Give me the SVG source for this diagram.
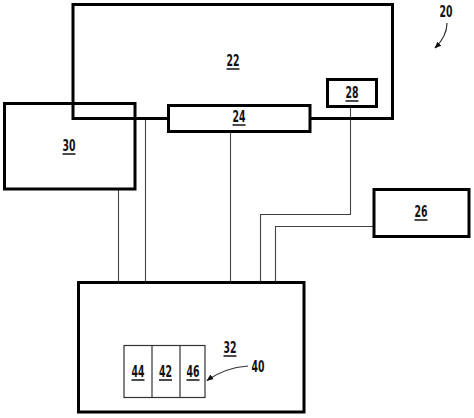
<svg xmlns="http://www.w3.org/2000/svg" width="474" height="418" viewBox="0 0 474 418">
<style>
.box{fill:none;stroke:#000;stroke-width:3}
.boxw{fill:#fff;stroke:#000;stroke-width:3}
.thin{fill:none;stroke:#333;stroke-width:1.2}
.wire{fill:none;stroke:#444;stroke-width:1.1}
.lbl{font-family:"DejaVu Sans Condensed","Liberation Sans Narrow","Liberation Sans",sans-serif;font-size:16.5px;font-weight:bold;fill:#111;text-anchor:middle}
.ul{stroke:#111;stroke-width:1.5}
</style>
<defs>
<marker id="ah" viewBox="0 0 10 10" refX="9" refY="5" markerWidth="7" markerHeight="7" orient="auto" markerUnits="userSpaceOnUse">
<path d="M0,1 L10,5 L0,9 Z" fill="#111"/>
</marker>
</defs>
<g id="connectors">
<line class="wire" x1="118.5" y1="189" x2="118.5" y2="282"/>
<line class="wire" x1="145.5" y1="119" x2="145.5" y2="282"/>
<line class="wire" x1="230.5" y1="132" x2="230.5" y2="282"/>
<polyline class="wire" points="350.5,107 350.5,214.5 260.5,214.5 260.5,282"/>
<polyline class="wire" points="374,226.5 275.5,226.5 275.5,282"/>
</g>
<g id="n22">
<rect class="box" x="73" y="4.5" width="319.5" height="114"/>
<text class="lbl" x="233" y="66" textLength="13" lengthAdjust="spacingAndGlyphs">22</text>
<line class="ul" x1="226.5" y1="69" x2="239.5" y2="69"/>
</g>
<g id="n28">
<rect class="boxw" x="327.5" y="79.5" width="49" height="27"/>
<text class="lbl" x="352" y="98" textLength="13" lengthAdjust="spacingAndGlyphs">28</text>
<line class="ul" x1="345.5" y1="101" x2="358.5" y2="101"/>
</g>
<g id="n24">
<rect class="boxw" x="168.5" y="105.5" width="141.5" height="26"/>
<text class="lbl" x="239" y="122" textLength="13" lengthAdjust="spacingAndGlyphs">24</text>
<line class="ul" x1="232.5" y1="125" x2="245.5" y2="125"/>
</g>
<g id="n30">
<rect class="box" x="4.5" y="103.5" width="130.5" height="85.5"/>
<text class="lbl" x="69" y="151" textLength="13" lengthAdjust="spacingAndGlyphs">30</text>
<line class="ul" x1="62.5" y1="154" x2="75.5" y2="154"/>
</g>
<g id="n26">
<rect class="box" x="374" y="189.5" width="95" height="47"/>
<text class="lbl" x="421" y="217" textLength="13" lengthAdjust="spacingAndGlyphs">26</text>
<line class="ul" x1="414.5" y1="220" x2="427.5" y2="220"/>
</g>
<g id="n32">
<rect class="box" x="78.5" y="282.5" width="225.5" height="129.5"/>
<text class="lbl" x="230" y="353" textLength="13" lengthAdjust="spacingAndGlyphs">32</text>
<line class="ul" x1="223.5" y1="356" x2="236.5" y2="356"/>
</g>
<g id="n40">
<rect class="thin" x="124" y="345.5" width="81" height="52"/>
<line class="thin" x1="152" y1="345.5" x2="152" y2="397.5"/>
<line class="thin" x1="180" y1="345.5" x2="180" y2="397.5"/>
<text class="lbl" x="258" y="372" textLength="13" lengthAdjust="spacingAndGlyphs">40</text>
<path class="thin" d="M248,366 C235,367 220,371 207,380.5" marker-end="url(#ah)"/>
</g>
<g id="n44">
<text class="lbl" x="138" y="377" textLength="13" lengthAdjust="spacingAndGlyphs">44</text>
<line class="ul" x1="131.5" y1="380" x2="144.5" y2="380"/>
</g>
<g id="n42">
<text class="lbl" x="165.5" y="377" textLength="13" lengthAdjust="spacingAndGlyphs">42</text>
<line class="ul" x1="159" y1="380" x2="172" y2="380"/>
</g>
<g id="n46">
<text class="lbl" x="193" y="377" textLength="13" lengthAdjust="spacingAndGlyphs">46</text>
<line class="ul" x1="186.5" y1="380" x2="199.5" y2="380"/>
</g>
<g id="n20">
<text class="lbl" x="446" y="17" textLength="13" lengthAdjust="spacingAndGlyphs">20</text>
<path class="thin" d="M447,23 C447,33 442,41 435,48" marker-end="url(#ah)"/>
</g>
</svg>
